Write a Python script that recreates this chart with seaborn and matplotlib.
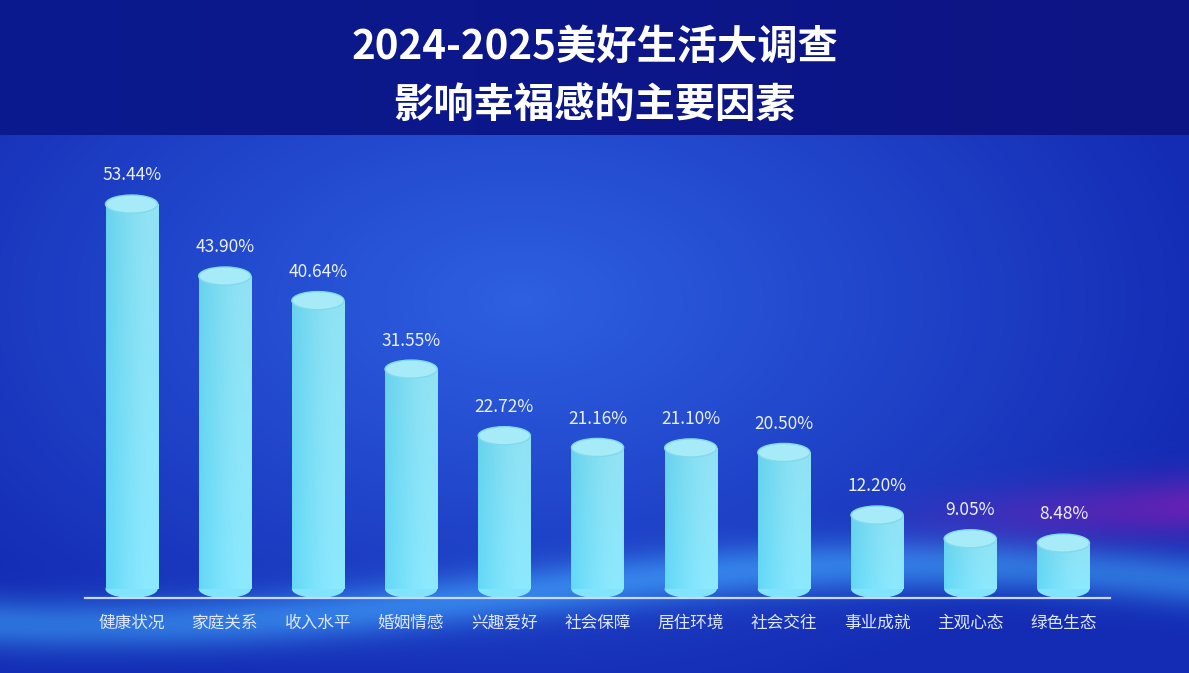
import numpy as np
import matplotlib
matplotlib.use("Agg")
import matplotlib.pyplot as plt
import seaborn as sns
from matplotlib.patches import Ellipse

categories = ["健康状况", "家庭关系", "收入水平", "婚姻情感", "兴趣爱好", "社会保障",
              "居住环境", "社会交往", "事业成就", "主观心态", "绿色生态"]
values = [53.44, 43.90, 40.64, 31.55, 22.72, 21.16, 21.10, 20.50, 12.20, 9.05, 8.48]
title_lines = ["2024-2025美好生活大调查", "影响幸福感的主要因素"]

sns.set_theme(style="white")
plt.rcParams["font.family"] = ["Noto Sans CJK SC", "DejaVu Sans"]

W, H = 1189, 673
fig = plt.figure(figsize=(W / 100, H / 100), dpi=100)

# background: navy header band + blue radial glow + light wave near bottom
yy, xx = np.mgrid[0:H, 0:W]
bg = np.zeros((H, W, 3))
r = np.sqrt(((xx - 520) / 700) ** 2 + ((yy - 300) / 420) ** 2)
glow = np.clip(1 - r, 0, 1)
bg[..., 0] = 20 + 26 * glow
bg[..., 1] = 44 + 52 * glow
bg[..., 2] = 180 + 45 * glow
wave_y = 595 + 30 * np.sin(xx / 260.0 + 1.2)
wave = np.exp(-((yy - wave_y) / 26.0) ** 2)
bg[..., 0] += 25 * wave
bg[..., 1] += 70 * wave
bg[..., 2] += 40 * wave
purple = np.exp(-((yy - (520 - 0.05 * (xx - 900))) / 30.0) ** 2) * np.clip((xx - 850) / 340, 0, 1)
bg[..., 0] += 80 * purple
bg[..., 1] -= 10 * purple
header = yy < 135
bg[header, 0] = 10 + 4 * (xx[header] / W)
bg[header, 1] = 20 + 6 * (1 - xx[header] / W)
bg[header, 2] = 132 + 10 * (1 - xx[header] / W)
bg = np.clip(bg, 0, 255) / 255.0
bgax = fig.add_axes([0, 0, 1, 1], zorder=-1)
bgax.imshow(bg, aspect="auto", extent=[0, 1, 0, 1], origin="upper")
bgax.axis("off")

ax = fig.add_axes([85 / W, (H - 598) / H, 1025 / W, 463 / H])
ax.set_facecolor("none")

bar_w = 0.56
sns.barplot(x=categories, y=values, color="#7fdcf0", width=bar_w, ax=ax, zorder=2)

# horizontal/vertical gradient inside each bar
gx = np.linspace(0, 1, 64)
gy = np.linspace(0, 1, 64)
GX, GY = np.meshgrid(gx, gy)
c_left = np.array([0.34, 0.80, 0.92])
c_right = np.array([0.60, 0.90, 0.96])
shape = np.clip(1.25 * GX - 0.45 * GX ** 4, 0, 1)
grad = c_left + (c_right - c_left) * (0.75 * shape + 0.25 * (1 - GY))[..., None]
grad = np.clip(grad + 0.05 * GY[..., None], 0, 1)

eh = 2.4  # ellipse height in data units (~18 px)
for p, v in zip(ax.patches, values):
    x0, w = p.get_x(), p.get_width()
    p.set_y(eh / 2)
    p.set_height(v - eh)
    im = ax.imshow(grad, extent=[x0, x0 + w, eh / 2, v - eh / 2], aspect="auto",
                   origin="upper", zorder=3)
    im.set_clip_path(p)
    p.set_facecolor("none")
    p.set_edgecolor("none")
    xc = x0 + w / 2
    ax.add_patch(Ellipse((xc, eh / 2), w, eh, facecolor=tuple(grad[-1, 32]),
                         edgecolor="none", zorder=2.5))
    ax.add_patch(Ellipse((xc, v - eh / 2), w, eh, facecolor="#a6ebf7", edgecolor="#7fdaee",
                         linewidth=1.0, zorder=4))
    ax.text(xc, v + 2.6, f"{v:.2f}%", ha="center", va="center", fontsize=12.5,
            color="#e8efff", zorder=5)

ax.set_xlim(-0.5, len(categories) - 0.5)
ax.set_ylim(0, 463 / 7.54)
ax.set_xlabel("")
ax.set_ylabel("")
ax.set_yticks([])
for s in ["top", "right", "left"]:
    ax.spines[s].set_visible(False)
ax.spines["bottom"].set_color("#c9d8ff")
ax.spines["bottom"].set_linewidth(1.6)
ax.spines["bottom"].set_zorder(6)
ax.tick_params(axis="x", length=0, pad=12, labelsize=12, labelcolor="#dde7ff")

fig.text(0.5, 1 - 47 / H, title_lines[0], ha="center", va="center", fontsize=29,
         fontweight="bold", color="white")
fig.text(0.5, 1 - 105 / H, title_lines[1], ha="center", va="center", fontsize=29,
         fontweight="bold", color="white")

fig.savefig("out.png", dpi=100)
